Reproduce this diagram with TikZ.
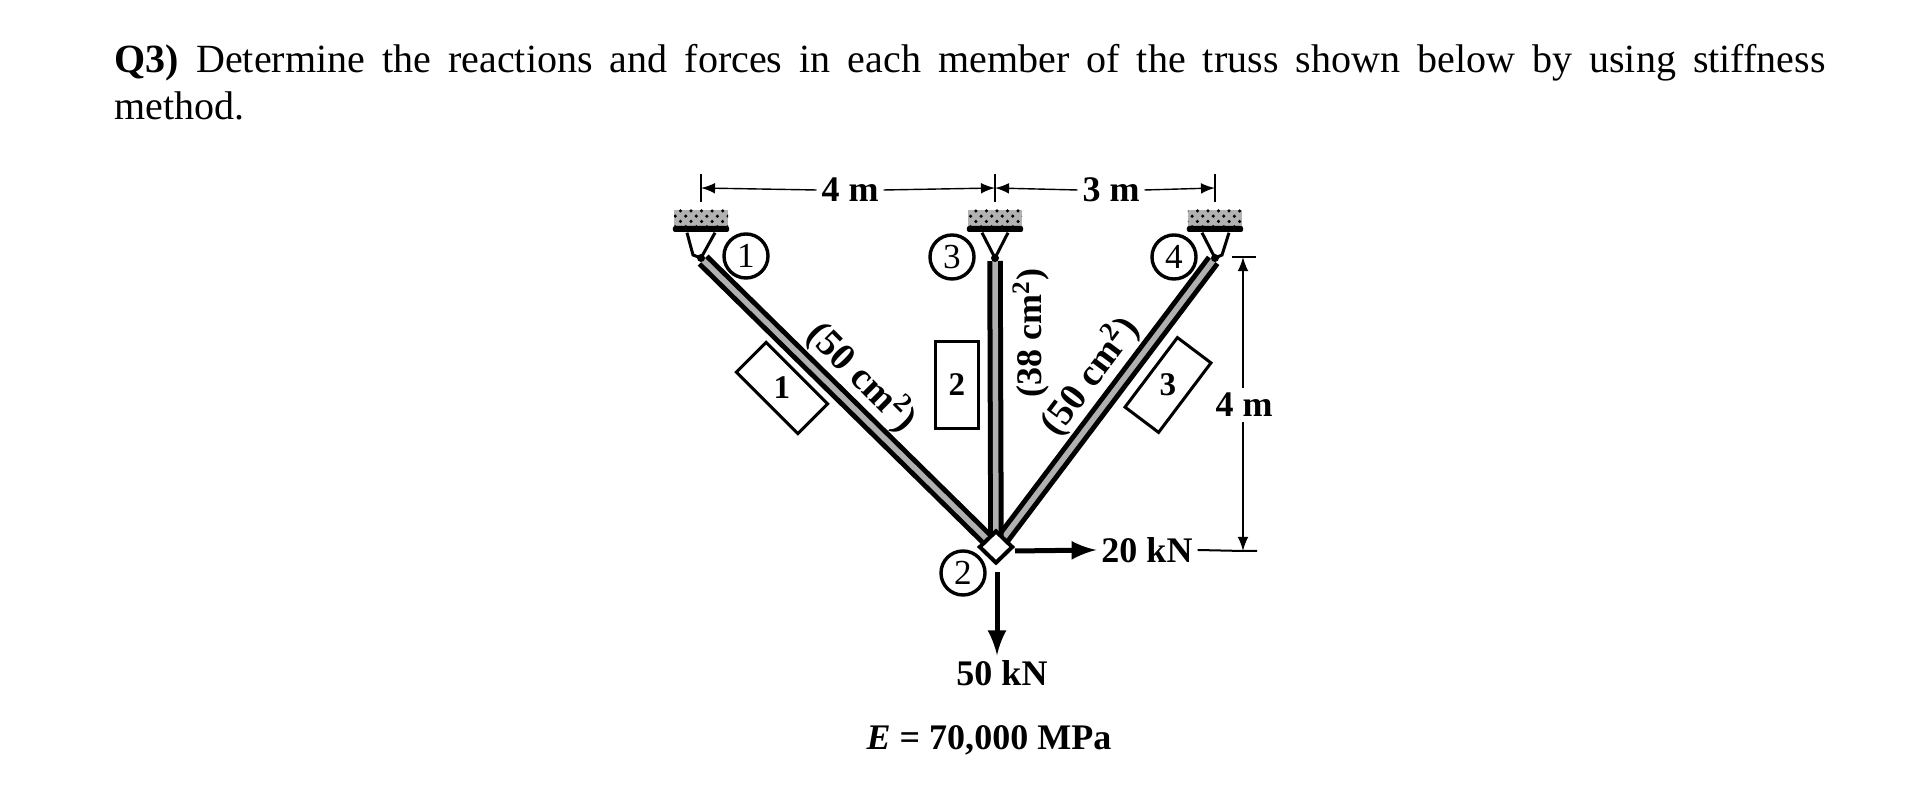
\documentclass[tikz,border=0pt]{standalone}
\usepackage{fontspec}
\setmainfont{Liberation Serif}
\usetikzlibrary{shapes.geometric,
                arrows,
                patterns,
                positioning}
\tikzset{label/.style =
   {font=\fontsize{10.24pt}{12pt}\selectfont\bfseries,
    inner sep=0pt,
    outer sep=0.05cm}}
\tikzset{jointnum/.style =
   {circle,
    draw,
    line width=0.034cm,
    minimum size=0.44cm,
    inner sep=0pt,
    font=\fontsize{10pt}{11pt}\selectfont}}
\tikzset{memberbox/.style =
   {rectangle,
    draw,
    line width=0.03cm,
    minimum width=0.87cm,
    minimum height=0.42cm,
    inner sep=0pt,
    font=\fontsize{9.4pt}{11pt}\selectfont\bfseries}}
\tikzset{member/.style = {draw, line width=0.05cm, double=gray!62, double distance=0.055cm, shorten <=0.03cm}}
\tikzset{hatch/.style =
   {rectangle,
    minimum width=0.54cm,
    minimum height=0.16cm,
    inner sep=0pt,
    preaction={fill=gray!60},
    pattern=crosshatch dots,
    pattern color=black}}
\tikzset{bar/.style =
   {rectangle,
    rounded corners=0.02cm,
    fill=black,
    minimum width=0.56cm,
    minimum height=0.06cm,
    inner sep=0pt}}
\tikzset{bracket/.style = {draw, line width=0.03cm}}
\tikzset{pin/.style = {circle, fill=black, minimum size=0.08cm, inner sep=0pt}}
\tikzset{dimension/.style = {draw, line width=0.014cm, -latex}}
\tikzset{force/.style = {draw, line width=0.05cm, -latex}}

\begin{document}
\begin{tikzpicture}[x=0.01cm, y=-0.01cm]

    \useasboundingbox (0,0) rectangle (1920,807);

    \node [anchor=north west, inner sep=0pt, text width=17.1cm, align=justify,
           font=\fontsize{11.38pt}{13.37pt}\selectfont] (question) at (114,44)
    {\textbf{Q3)} Determine the reactions and forces in each member of the truss
     shown below by using stiffness\linebreak method.};

    % supports
    \foreach \name/\px in {A/701, C/995, D/1215} {
        \coordinate (pin\name) at (\px,258);
    }
    \node [hatch] (hatchA) at (701,218) {};
    \node [hatch] (hatchC) at (995,218) {};
    \node [hatch] (hatchD) at (1215,218) {};
    \node [bar] (barA) at (701,229) {};
    \node [bar] (barC) at (995,229) {};
    \node [bar] (barD) at (1215,229) {};

    % members
    \coordinate (pinB) at (996,548);
    \draw [member] (pinA) -- (pinB);
    \draw [member] (pinD) -- (pinB);
    \draw [member] (pinC) -- (pinB);

    \draw [bracket] ([xshift=-0.14cm]barA.south) -- (693,255) -- (pinA);
    \draw [bracket] ([xshift=0.14cm]barA.south) -- (pinA);
    \draw [bracket] ([xshift=-0.13cm]barC.south) -- (pinC);
    \draw [bracket] ([xshift=0.13cm]barC.south) -- (pinC);
    \draw [bracket] ([xshift=-0.13cm]barD.south) -- (pinD);
    \draw [bracket] ([xshift=0.14cm]barD.south) -- (1222,255) -- (pinD);

    \node [diamond, draw, fill=white, line width=0.04cm, minimum width=0.34cm,
           minimum height=0.33cm, inner sep=0pt] (jointB) at (996,547) {};
    \node [pin] at (pinA) {};
    \node [pin] at (pinC) {};
    \node [pin] at (pinD) {};

    \node [jointnum] (num1) at (746,256) {1};
    \node [jointnum] (num3) at (952,257) {3};
    \node [jointnum] (num4) at (1174,257) {4};
    \node [jointnum] (num2) at (963,573) {2};

    \node [memberbox, rotate=-45] (box1) at (782,388) {\rotatebox{45}{1}};
    \node [memberbox, rotate=90] (box2) at (957,385) {\rotatebox{-90}{2}};
    \node [memberbox, rotate=53] (box3) at (1168,385) {\rotatebox{-53}{3}};

    \node [label, rotate=-45, scale=1.06] (area1) at (862,377) {(50 cm\textsuperscript{2})};
    \node [label, rotate=90] (area2) at (1031,333) {(38 cm\textsuperscript{2})};
    \node [label, rotate=53, scale=1.06] (area3) at (1090,376) {(50 cm\textsuperscript{2})};

    % dimensions
    \node [label] (dim4) at (850,190) {4 m};
    \node [label] (dim3) at (1111,190) {3 m};
    \node [label] (dimv) at (1244,405) {4 m};
    \coordinate (dimA) at (701,188);
    \coordinate (dimC) at (995,188);
    \coordinate (dimD) at (1215,188);
    \foreach \pt in {dimA, dimC, dimD} {
        \draw [line width=0.02cm] ([yshift=0.14cm]\pt) -- ([yshift=-0.14cm]\pt);
    }
    \draw [dimension] (dim4.west) -- (dimA);
    \draw [dimension] (dim4.east) -- (dimC);
    \draw [dimension] (dim3.west) -- (dimC);
    \draw [dimension] (dim3.east) -- (dimD);

    \coordinate (topv) at (1243,257);
    \coordinate (botv) at (1243,551);
    \draw [line width=0.02cm] (1232,257) -- (1256,257);
    \draw [dimension] (dimv.north -| topv) -- (topv);
    \draw [dimension] (dimv.south -| botv) -- (botv);

    % loads
    \node [label] (load20) at (1147,550) {20 kN};
    \node [label] (load50) at (1002,673) {50 kN};
    \node [label] (modulus) at (989,740) {\textit{E} = 70,000 MPa};
    \draw [force] (1015,551) -- (load20.west);
    \draw [force] (997,572) -- (load50.north -| 997,572);
    \draw [line width=0.02cm] (load20.east) -- (botv) -- (1257,551);

\end{tikzpicture}
\end{document}
